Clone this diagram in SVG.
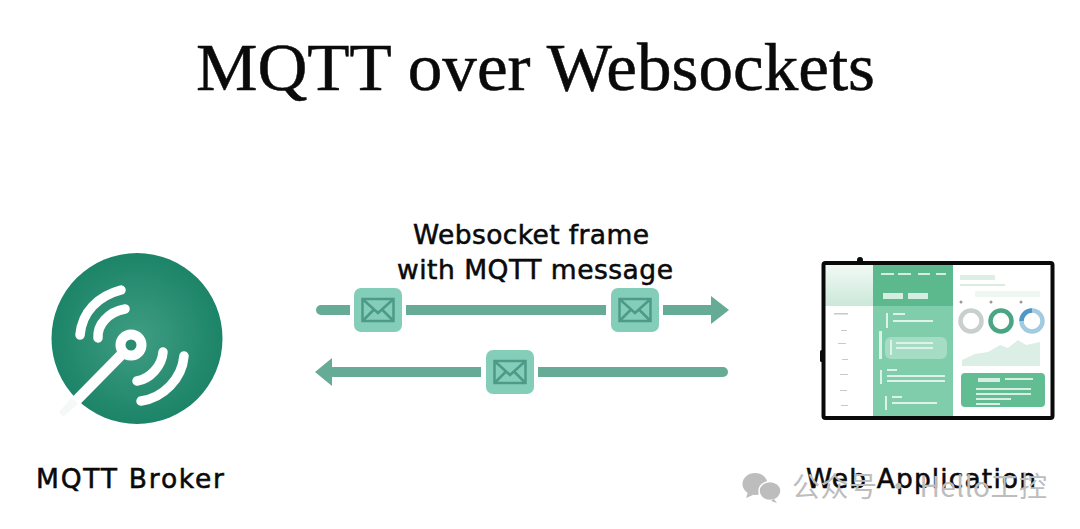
<svg xmlns="http://www.w3.org/2000/svg" width="1080" height="529" viewBox="0 0 1080 529">
<style>
.title{font-family:"Liberation Serif","DejaVu Serif",serif;font-size:68px;fill:#0a0a0a;stroke:#0a0a0a;stroke-width:.5px}
.label{font-family:"DejaVu Sans",sans-serif;font-size:26.5px;fill:#0a0a0a;stroke:#0a0a0a;stroke-width:.55px}
.wm{font-family:"Noto Sans CJK SC","Noto Sans",sans-serif;font-size:28px;fill:#bdbdbd}
.shaft{stroke:#66ab96;stroke-width:10;fill:none}
.head{fill:#66ab96}
.env{fill:#84cdb9}
.mail{fill:none;stroke:#4c9a88;stroke-width:2.5}
.wave{fill:none;stroke:#fff;stroke-width:9.5;stroke-linecap:round}
.g{fill:#5cb98e}
.l{fill:#fff;opacity:.75}
</style>
<defs>
<filter id="soft" x="-5%" y="-5%" width="110%" height="110%"><feGaussianBlur stdDeviation=".7"/></filter>
<radialGradient id="bg" cx=".5" cy=".5" r=".5"><stop offset="0" stop-color="#3f9d83"/><stop offset="1" stop-color="#1c8468"/></radialGradient>
<linearGradient id="hill" x1="0" y1="0" x2="0" y2="1"><stop offset="0" stop-color="#f2f9f5"/><stop offset="1" stop-color="#cbe8d9"/></linearGradient>
<g id="envelope"><rect x="-24" y="-22" width="48" height="44" rx="7" class="env"/><rect x="-15.500" y="-11" width="31" height="22" class="mail"/><path d="M-15.500-11 0 3 15.500-11M-15.500 11-4-.5M15.500 11 4-.5" class="mail"/></g>
</defs>
<text class="title" x="196" y="90" textLength="679" lengthAdjust="spacingAndGlyphs">MQTT over Websockets</text>
<g id="broker">
<circle cx="137" cy="338.500" r="85.500" fill="url(#bg)"/>
<path d="M124 352 66 411" stroke="#fff" stroke-width="10.500" fill="none"/>
<path d="M72 397 59 412 63 417 78 404Z" fill="#f4f8f6"/>
<circle cx="131" cy="345" r="10.500" fill="#2a8d72" stroke="#fff" stroke-width="10"/>
<path d="M80 335C82 312 98 296 121 290" class="wave"/>
<path d="M98 338C97 325 108 312 125 309" class="wave"/>
<path d="M163 352C162 366 150 379 137 381" class="wave"/>
<path d="M184 356C182 379 163 398 141 401" class="wave"/>
<text class="label" x="36" y="488" textLength="188">MQTT Broker</text>
</g>
<g id="connectors">
<path class="shaft" d="M321 310H350M406 310H606M663 310H712" stroke-linecap="butt"/>
<circle cx="321" cy="310" r="5" class="head"/>
<path class="head" d="M711 296 729 310 711 324Z"/>
<path class="shaft" d="M330 372H481M538 372H723"/>
<circle cx="723" cy="372" r="5" class="head"/>
<path class="head" d="M332 358 315 372 332 386Z"/>
</g>
<g id="frame-label">
<text class="label" x="413" y="244" textLength="236">Websocket frame</text>
<text class="label" x="397" y="279" textLength="276">with MQTT message</text>
</g>
<g id="msg1"><use href="#envelope" x="378" y="310"/></g>
<g id="msg2"><use href="#envelope" x="635" y="310"/></g>
<g id="msg3"><use href="#envelope" x="510" y="372"/></g>
<g id="webapp">
<rect x="823" y="263" width="230" height="155" fill="#fff"/>
<g filter="url(#soft)">
<path d="M824 265H873V306H824Z" fill="url(#hill)"/>
<rect x="873" y="265" width="80" height="152" fill="#7fcdaa"/>
<rect x="873" y="265" width="80" height="41" class="g"/>
<g class="l"><rect x="881" y="273" width="13" height="2"/><rect x="898" y="273" width="13" height="2"/><rect x="918" y="273" width="12" height="2"/><rect x="936" y="273" width="10" height="2"/>
<rect x="883" y="293" width="20" height="6"/><rect x="908" y="293" width="20" height="6"/>
<rect x="886" y="313" width="2" height="15"/><rect x="893" y="313" width="12" height="2"/><rect x="893" y="320" width="40" height="2"/>
<rect x="879" y="331" width="3" height="28"/>
<rect x="885" y="337" width="62" height="22" rx="6" opacity=".4"/><rect x="890" y="340" width="2" height="15"/><rect x="896" y="342" width="37" height="2"/><rect x="896" y="347" width="37" height="2"/>
<rect x="880" y="370" width="2" height="14"/><rect x="887" y="369" width="10" height="2"/><rect x="887" y="375" width="58" height="2"/><rect x="887" y="380" width="58" height="2"/>
<rect x="885" y="396" width="2" height="14"/><rect x="892" y="396" width="10" height="2"/><rect x="892" y="402" width="45" height="2"/></g>
<g fill="#c8c8c8"><rect x="834" y="313" width="14" height="1.500"/><rect x="841" y="330" width="6" height="1"/><rect x="838" y="343" width="8" height="1"/><rect x="842" y="359" width="6" height="1"/><rect x="840" y="374" width="8" height="1"/><rect x="840" y="390" width="7" height="1"/><rect x="841" y="405" width="7" height="1"/></g>
<rect x="960" y="275" width="35" height="5" fill="#dcefe5"/><rect x="960" y="284" width="45" height="2" fill="#d8ece2"/><rect x="975" y="291" width="65" height="6" fill="#eef7f2"/>
<g fill="#999"><circle cx="961" cy="302" r="1.500"/><circle cx="991" cy="302" r="1.500"/><circle cx="1021" cy="302" r="1.500"/></g>
<g fill="none" stroke-width="4.500"><circle cx="971" cy="321" r="10.500" stroke="#c9cfcc"/><circle cx="1001" cy="321" r="10.500" stroke="#4aa583"/><circle cx="1032" cy="321" r="10.500" stroke="#a3cbe0"/></g>
<path d="M1032 310.500a10.500 10.500 0 0 0-10.500 10.500" fill="none" stroke="#4f97c8" stroke-width="4.500"/>
<path d="M962 360 975 354 988 352 1000 345 1008 348 1018 340 1026 345 1040 342V366H962Z" fill="#dcefe6"/>
<rect x="961" y="373" width="84" height="34" rx="4" fill="#63bd93"/>
<g class="l"><rect x="978" y="378" width="22" height="4"/><rect x="1005" y="378" width="28" height="2"/><rect x="976" y="388" width="55" height="2"/><rect x="976" y="393" width="55" height="2"/><rect x="976" y="398" width="35" height="2"/><rect x="976" y="403" width="24" height="2"/></g>
</g>
<rect x="823.500" y="263" width="229" height="155" rx="2" fill="none" stroke="#0a0a0a" stroke-width="4"/>
<circle cx="860" cy="260" r="3" fill="#0a0a0a"/>
<rect x="820" y="350" width="3" height="12" rx="1.500" fill="#0a0a0a"/>
<text class="label" x="806" y="488" textLength="230">Web Application</text>
</g>
<g id="watermark">
<ellipse cx="755" cy="484" rx="12.500" ry="11" fill="#bdbdbd"/>
<path d="M748 492l-2 6 7-3Z" fill="#bdbdbd"/>
<ellipse cx="770" cy="491" rx="11" ry="9.500" fill="#bdbdbd" stroke="#fff" stroke-width="1.500"/>
<path d="M774 499l3 4-6-2Z" fill="#bdbdbd"/>
<text class="wm" x="792" y="497" textLength="255">公众号 · Hello工控</text>
</g>
</svg>
